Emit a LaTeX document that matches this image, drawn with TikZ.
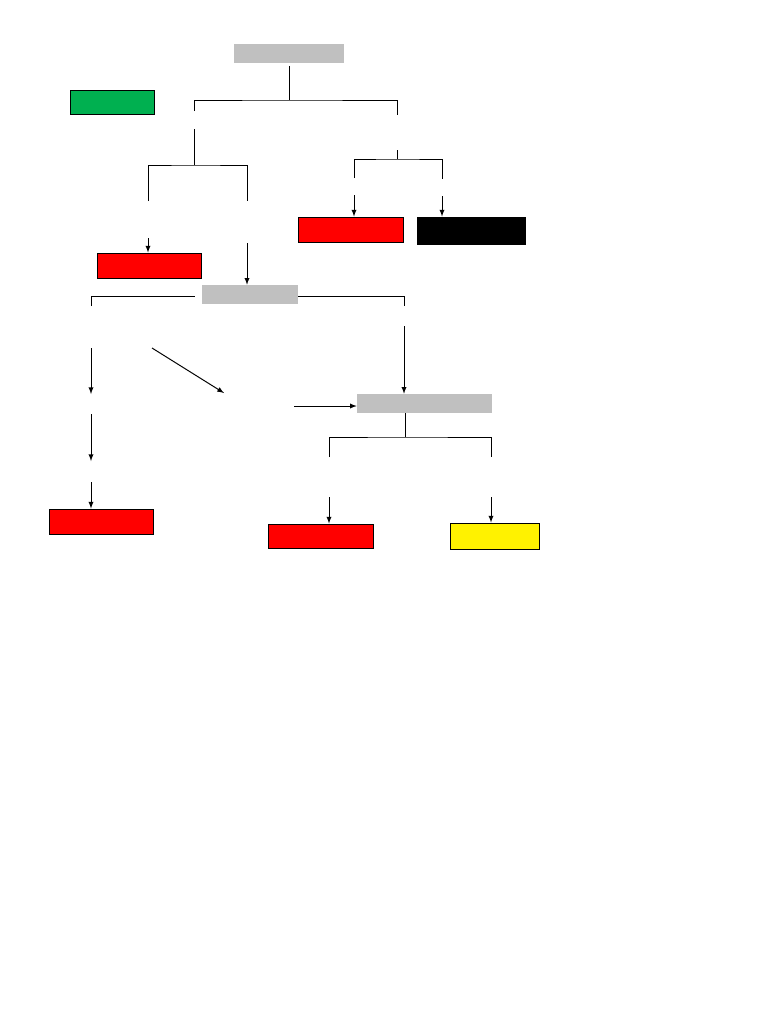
\documentclass[tikz,border=0pt]{standalone}
\usetikzlibrary{arrows}
\definecolor{boxgray}{HTML}{C0C0C0}
\definecolor{boxgreen}{HTML}{00B050}
\tikzstyle{greybox} = [rectangle, inner sep=0pt, minimum height=14.25pt, fill=boxgray]
\tikzstyle{colbox} = [rectangle, inner sep=0pt, minimum height=18.75pt, draw=black, line width=0.75pt]
\tikzstyle{line} = [line width=0.75pt]
\tikzstyle{arrow} = [line width=0.75pt,->,>=latex]

\begin{document}
\begin{tikzpicture}[x=0.75pt,y=-0.75pt]
            \useasboundingbox (0,0) rectangle (768,1024);
            \node [greybox, minimum width=82.5pt] at (289,53.5) (top) {};
            \node [colbox, fill=boxgreen, minimum width=63pt, minimum height=17.25pt] at (112,102.5) (green) {};
            \node [colbox, fill=red, minimum width=78pt] at (149,265.5) (red1) {};
            \node [colbox, fill=red, minimum width=78.75pt] at (350.5,229.5) (red2) {};
            \node [colbox, fill=black, minimum width=81pt, minimum height=20.25pt] at (471,230.5) (blk) {};
            \node [greybox, minimum width=72pt] at (250,294.5) (mid) {};
            \node [greybox, minimum width=101.25pt] at (424.5,403.5) (low) {};
            \node [colbox, fill=red, minimum width=78pt] at (101,521.5) (red3) {};
            \node [colbox, fill=red, minimum width=78.75pt, minimum height=18pt] at (320.5,536) (red4) {};
            \node [colbox, fill=yellow, minimum width=66.75pt, minimum height=19.5pt] at (494.5,536) (yel) {};
            % top split
            \coordinate (t0) at (289,66);
            \coordinate (tj) at (289,100);
            \coordinate (t1) at (194,111);
            \coordinate (t2) at (397,115);
            \draw [line] (t0) -- (tj);
            \draw [line] (t1) |- (tj) -| (t2);
            % left branch
            \coordinate (l0) at (194,129);
            \coordinate (lj) at (194,165);
            \coordinate (l1) at (148,201);
            \coordinate (l2) at (247,201);
            \coordinate (l1a) at (148,238);
            \coordinate (l2a) at (247,243);
            \draw [line] (l0) -- (lj);
            \draw [line] (l1) |- (lj) -| (l2);
            \draw [arrow] (l1a) -- (l1a |- red1.north);
            \draw [arrow] (l2a) -- (l2a |- mid.north);
            % right branch
            \coordinate (r0) at (397,150);
            \coordinate (rj) at (397,159);
            \coordinate (r1) at (354,178);
            \coordinate (r2) at (442,179);
            \coordinate (r1a) at (354,195);
            \coordinate (r2a) at (442,196);
            \draw [line] (r0) -- (rj);
            \draw [line] (r1) |- (rj) -| (r2);
            \draw [arrow] (r1a) -- (r1a |- red2.north);
            \draw [arrow] (r2a) -- (r2a |- blk.north);
            % middle split
            \coordinate (mL) at (195,296);
            \coordinate (m1) at (91,306);
            \coordinate (m2) at (404,306);
            \draw [line] (m1) |- (mL);
            \draw [line] (mid.east |- mL) -| (m2);
            % left column
            \coordinate (c1) at (91,348);
            \coordinate (c1e) at (91,394);
            \coordinate (c2) at (91,414);
            \coordinate (c2e) at (91,461);
            \coordinate (c3) at (91,482);
            \draw [arrow] (c1) -- (c1e);
            \draw [arrow] (c2) -- (c2e);
            \draw [arrow] (c3) -- (c3 |- red3.north);
            \coordinate (d1) at (152,348);
            \coordinate (d2) at (224,393);
            \draw [arrow] (d1) -- (d2);
            \coordinate (h1) at (294,406);
            \draw [arrow] (h1) -- (h1 -| low.west);
            \coordinate (v1) at (404,326);
            \draw [arrow] (v1) -- (v1 |- low.north);
            % bottom split
            \coordinate (bj) at (405,437);
            \coordinate (b1) at (329,457);
            \coordinate (b2) at (491,457);
            \coordinate (b1a) at (329,497);
            \coordinate (b2a) at (491,497);
            \draw [line] (bj |- low.south) -- (bj);
            \draw [line] (b1) |- (bj) -| (b2);
            \draw [arrow] (b1a) -- (b1a |- red4.north);
            \draw [arrow] (b2a) -- (b2a |- yel.north);
            \end{tikzpicture}
\end{document}
